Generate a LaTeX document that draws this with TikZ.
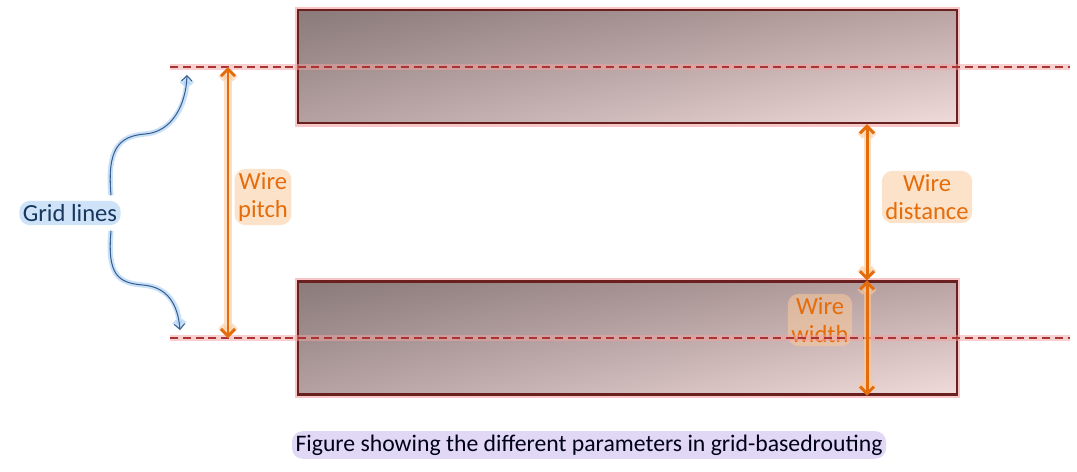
\documentclass[tikz,border=0pt]{standalone}
\usepackage{fontspec}
\setmainfont{Carlito}
\usetikzlibrary{arrows.meta,shadings}

\definecolor{wireedge}{HTML}{6B2020}
\definecolor{wiredark}{HTML}{8A7A7A}
\definecolor{wireupr}{HTML}{BBA3A3}
\definecolor{wirelowl}{HTML}{B5A1A1}
\definecolor{wirelight}{HTML}{F0DADA}
\definecolor{gridred}{HTML}{A83434}
\definecolor{glowred}{HTML}{F4A0A0}
\definecolor{dimorange}{HTML}{E46C0A}
\definecolor{gloworange}{HTML}{FBCB9E}
\definecolor{bluetxt}{HTML}{17375E}
\definecolor{glowblue}{HTML}{A6CDF4}
\definecolor{bluelink}{HTML}{3A5F8F}
\definecolor{glowpurple}{HTML}{C9B8EE}

\tikzset{
  wire/.style={draw=wireedge, line width=1.4pt, shade,
    upper left=wiredark, upper right=wireupr, lower left=wirelowl, lower right=wirelight,
    minimum width=13.18cm, minimum height=2.26cm, inner sep=0pt,
    preaction={draw=glowred, line width=4pt, opacity=0.6}},
  gridline/.style={draw=gridred, line width=0.6pt, dash pattern=on 4.5pt off 2.8pt,
    preaction={draw=glowred, solid, line width=3.5pt, opacity=0.5}},
  dim/.style={draw=dimorange, line width=1.7pt,
    {Straight Barb[length=4pt,width=8pt]}-{Straight Barb[length=4pt,width=8pt]},
    preaction={draw=gloworange, line width=4pt, opacity=0.6}},
  glow/.style={fill=#1, fill opacity=0.55, text opacity=1, rounded corners=6pt,
    inner sep=2pt, font=\fontsize{14}{16}\selectfont},
  dimlabel/.style={glow=gloworange, text=dimorange, align=center},
  link/.style={draw=bluelink, line width=0.6pt, -{Straight Barb[length=3pt,width=6pt]},
    preaction={draw=glowblue, line width=3pt, opacity=0.6}}
}

\begin{document}
\begin{tikzpicture}[x=0.02cm, y=-0.02cm]
    \useasboundingbox (0,0) rectangle (1077,471);
    \fill[white] (0,0) rectangle (1077,471);

    % the two wires
    \node[wire] (wireTop) at (627.5,66.5) {};
    \node[wire] (wireBot) at (627.5,338) {};

    % grid lines
    \coordinate (gridTopL) at (170,67);
    \coordinate (gridTopR) at (1070,67);
    \coordinate (gridBotL) at (170,338);
    \coordinate (gridBotR) at (1070,338);

    % dimensions
    \coordinate (pitchTop) at (228,67);
    \coordinate (pitchBot) at (228,338);
    \coordinate (distX) at (867,0);

    \node[dimlabel] (pitchLbl) at (263,197) {Wire\\pitch};
    \node[dimlabel] (distLbl) at (927,197) {Wire\\distance};
    \node[dimlabel] (widthLbl) at (820,320) {Wire\\width};

    \draw[gridline] (gridTopL) -- (gridTopR);
    \draw[gridline] (gridBotL) -- (gridBotR);

    \draw[dim] (pitchTop) -- (pitchBot);
    \draw[dim] (wireTop.south -| distX) -- (wireBot.north -| distX);
    \draw[dim] (wireBot.north -| distX) -- (wireBot.south -| distX);

    % grid line pointer
    \node[glow=glowblue, text=bluetxt] (gridLbl) at (70,213) {Grid lines};
    \coordinate (upTip) at (187,75);
    \coordinate (downTip) at (180,330);
    \draw[link] ([xshift=-0.2cm, yshift=3pt]gridLbl.north east) .. controls (107,150) and (118,136) .. (145,134)
        .. controls (172,132) and (186,105) .. (upTip);
    \draw[link] ([xshift=-0.2cm, yshift=-3pt]gridLbl.south east) .. controls (107,275) and (118,283) .. (143,285)
        .. controls (168,287) and (178,305) .. (downTip);

    \node[glow=glowpurple, text=black!90!blue, font=\fontsize{13.5}{16}\selectfont] (caption) at (589,445)
        {Figure showing the different parameters in grid-basedrouting};
\end{tikzpicture}
\end{document}
